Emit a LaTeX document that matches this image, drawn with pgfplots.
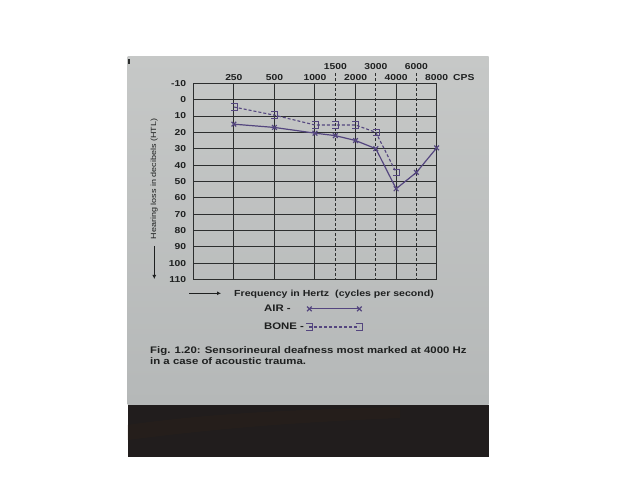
\documentclass[border=0pt]{standalone}
\usepackage{fontspec}
\setmainfont{Liberation Sans}
\newfontfamily\widefont{Liberation Sans}[FakeStretch=1.2]
\usepackage{pgfplots}
\pgfplotsset{compat=1.18}
\usetikzlibrary{arrows.meta}
\definecolor{paper}{HTML}{C6C8C7}
\definecolor{paperlow}{HTML}{B5B8B8}
\definecolor{darkband}{HTML}{211D1D}
\definecolor{gridc}{HTML}{2C2E2E}
\definecolor{pen}{HTML}{54467F}
\definecolor{textc}{HTML}{1E2020}

% bone conduction mark: a "]" bracket
\pgfdeclareplotmark{bracket}{%
  \pgfpathmoveto{\pgfqpoint{-\pgfplotmarksize}{\pgfplotmarksize}}%
  \pgfpathlineto{\pgfqpoint{\pgfplotmarksize}{\pgfplotmarksize}}%
  \pgfpathlineto{\pgfqpoint{\pgfplotmarksize}{-\pgfplotmarksize}}%
  \pgfpathlineto{\pgfqpoint{-\pgfplotmarksize}{-\pgfplotmarksize}}%
  \pgfusepathqstroke}

\newcommand{\tickfont}{\widefont\bfseries\fontsize{8.6}{10}\selectfont}
\newcommand{\labfont}{\widefont\bfseries\fontsize{8.8}{10}\selectfont}
\newcommand{\capfont}{\widefont\bfseries\fontsize{9.5}{11}\selectfont}

\begin{document}
\begin{tikzpicture}
\useasboundingbox (0,0) rectangle (638pt,-478pt);
\fill[white] (0,0) rectangle (638pt,-478pt);
% the photographed page
\shade[top color=paper, bottom color=paperlow] (127.5pt,-56.5pt) rectangle (488.5pt,-405pt);
\fill[darkband] (127.5pt,-405pt) rectangle (488.5pt,-456.7pt);
\fill[black!70!brown,opacity=.2] (127.5pt,-425pt) .. controls (220pt,-412pt) and (300pt,-410pt) .. (400pt,-407pt)
  -- (400pt,-418pt) .. controls (300pt,-422pt) and (220pt,-428pt) .. (127.5pt,-440pt) -- cycle;
\fill[gridc] (128pt,-59pt) rectangle (130pt,-64pt);

\begin{axis}[
  at={(193.3pt,-279.5pt)}, anchor=south west,
  scale only axis, width=243.4pt, height=196.2pt,
  xmin=0, xmax=6, ymin=-10, ymax=110, y dir=reverse,
  axis line style={draw=gridc, line width=1.2pt},
  xtick={1,2,3,4,5,6}, xticklabels={250,500,1000,2000,4000,8000},
  xticklabel pos=upper, xtick pos=right,
  extra x ticks={3.5,4.5,5.5}, extra x tick labels={1500,3000,6000},
  extra x tick style={major tick length=10pt, tick align=outside,
    major tick style={draw=gridc, line width=1pt, dash pattern=on 3pt off 2pt},
    major grid style={draw=gridc, line width=1pt, dash pattern=on 3pt off 2pt},
    xticklabel style={yshift=1.5pt}},
  ytick={-10,0,...,110},
  yticklabels={-10,0,10,20,30,40,50,60,70,80,90,100,110},
  major tick length=0pt,
  xmajorgrids, ymajorgrids,
  major grid style={draw=gridc, line width=1pt},
  xticklabel style={font=\tickfont, text=textc, inner sep=0pt, yshift=2.3pt},
  yticklabel style={font=\tickfont, text=textc, inner sep=0pt, xshift=-7pt},
  legend style={at={(0.282,-0.118)}, anchor=north west, draw=none, fill=none,
    font=\capfont, text=textc, row sep=6pt, inner sep=0pt},
  legend plot pos=right, legend cell align=left,
  legend image code/.code={\draw[#1] plot coordinates {(3pt,0pt) (53pt,0pt)};},
  clip=false,
]
\addplot[pen, line width=1.2pt, mark=x, mark size=3.3pt, mark options={solid}]
  coordinates {(1,15)(2,17)(3,20.5)(3.5,22)(4,25)(4.5,30)(5,54.5)(5.5,44.5)(6,29.5)};
\addlegendentry{AIR -}
\addplot[pen, line width=1.1pt, dash pattern=on 3pt off 2pt, mark=bracket, mark size=3.3pt, mark options={solid}]
  coordinates {(1,4.5)(2,9.5)(3,15.5)(3.5,15.5)(4,15.5)(4.5,20)(5,44.5)};
\addlegendentry{BONE -}
\end{axis}

\node[font=\tickfont, text=textc, anchor=base west, inner sep=0pt] at (453pt,-81pt) {CPS};
% y axis title and arrow
\node[font=\widefont\fontsize{7.5}{8}\selectfont, text=textc, rotate=90, inner sep=0pt] at (154.3pt,-179pt)
  {Hearing loss in decibels (HTL)};
\draw[textc, line width=1.1pt, -{Latex[length=4pt,width=4pt]}] (154.3pt,-246pt) -- (154.3pt,-279pt);
% x axis title and arrow
\draw[textc, line width=1.1pt, -{Latex[length=4pt,width=4pt]}] (189pt,-293.3pt) -- (221pt,-293.3pt);
\node[font=\labfont, text=textc, anchor=base west, inner sep=0pt] at (234pt,-296.5pt)
  {Frequency in Hertz\hspace{6pt}(cycles per second)};
% caption
\node[font=\capfont, text=textc, anchor=base west, inner sep=0pt] at (150pt,-353.5pt)
  {Fig. 1.20: Sensorineural deafness most marked at 4000 Hz};
\node[font=\capfont, text=textc, anchor=base west, inner sep=0pt] at (150pt,-364.5pt)
  {in a case of acoustic trauma.};
\end{tikzpicture}
\end{document}
